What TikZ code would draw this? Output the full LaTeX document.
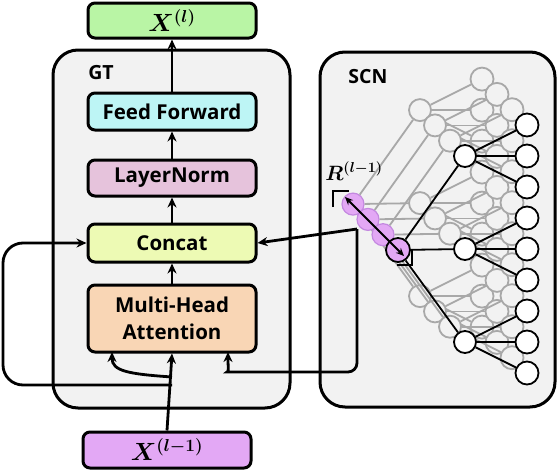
\documentclass[tikz,border=0pt]{standalone}
\usepackage{fontspec}
\usepackage{amsmath}
\usetikzlibrary{arrows.meta}
\newfontfamily\lbl{Open Sans}
\definecolor{cgreen}{HTML}{B9F5A5}
\definecolor{ccyan}{HTML}{BDF5F5}
\definecolor{cpink}{HTML}{E6C3DC}
\definecolor{cyel}{HTML}{EDFAB4}
\definecolor{cpeach}{HTML}{F9D6B5}
\definecolor{cpurp}{HTML}{E3A8F5}
\definecolor{cpurpd}{HTML}{C489E0}
\definecolor{cbg}{HTML}{F2F2F2}
\definecolor{cgray}{HTML}{A8A8A8}
\begin{document}
\begin{tikzpicture}[x=1pt,y=-1pt,
  blk/.style={draw=black, line width=3pt, rounded corners=7pt, minimum width=168pt, inner sep=0pt, align=center,
    font=\lbl\bfseries\fontsize{20.5}{27}\selectfont},
  mathlbl/.style={font=\fontsize{23.5}{28}\selectfont},
  panel/.style={draw=black, line width=3pt, rounded corners=25pt, fill=cbg},
  arr/.style={line width=2.8pt, -{Stealth[length=10pt,width=9pt]}},
  gnode/.style={circle, draw=cgray, line width=1.8pt, fill=cbg, inner sep=0pt},
  bnode/.style={circle, draw=black, line width=1.8pt, fill=white, inner sep=0pt},
  pnode/.style={circle, draw=cpurpd, line width=1.2pt, fill=cpurp, inner sep=0pt, minimum size=22pt},
  gedge/.style={draw=cgray, line width=1.8pt},
  bedge/.style={draw=black, line width=1.8pt},
  cornermark/.style={draw=black, line width=2pt}
]
\useasboundingbox (0,0) rectangle (557,471);
% panels
\draw[panel] (53,50) rectangle (290,408);
\draw[panel] (320,52) rectangle (555,407);
\node[font=\lbl\bfseries\fontsize{19.5}{22}\selectfont] (gtl) at (101,73) {GT};
\node[font=\lbl\bfseries\fontsize{19.5}{22}\selectfont] (scnl) at (368,77) {SCN};
% boxes
\node[blk, fill=cgreen, minimum height=35pt, mathlbl] (xl) at (172,20.5) {$\boldsymbol{X^{(l)}}$};
\node[blk, fill=ccyan, minimum height=37pt] (ff) at (172,111.5) {Feed Forward};
\node[blk, fill=cpink, minimum height=36pt] (ln) at (172,178) {LayerNorm};
\node[blk, fill=cyel, minimum height=38pt] (cc) at (172,243) {Concat};
\node[blk, fill=cpeach, minimum height=67pt] (mha) at (172,318.5) {Multi-Head\\Attention};
\node[blk, fill=cpurp, minimum height=36pt, mathlbl] (xlm) at (167,450) {$\boldsymbol{X^{(l-1)}}$};
% tree: gray copies
\foreach \k in {3,2,1}{
  \begin{scope}[shift={(-15*\k,-15.3*\k)}]
    \node[pnode] (r\k) at (398,250) {};
    \foreach \j in {0,1,2}{
      \node[gnode, minimum size=22pt] (m\k\j) at (465,{156+93*\j}) {};
      \draw[gedge] (r\k) -- (m\k\j);
      \foreach \i in {0,1,2}{
        \node[gnode, minimum size=23pt] (l\k\j\i) at (527,{125+31*(3*\j+\i)}) {};
        \draw[gedge] (m\k\j) -- (l\k\j\i);
      }
    }
  \end{scope}
}
% black tree
\node[pnode, draw=black, line width=1.8pt, minimum size=24pt] (r0) at (398,250) {};
\foreach \j in {0,1,2}{
  \node[bnode, minimum size=22pt] (m0\j) at (465,{156+93*\j}) {};
  \draw[bedge] (r0) -- (m0\j);
  \foreach \i in {0,1,2}{
    \node[bnode, minimum size=23pt] (l0\j\i) at (527,{125+31*(3*\j+\i)}) {};
    \draw[bedge] (m0\j) -- (l0\j\i);
  }
}
% corner marks and double arrow
\draw[cornermark] (333,207) -- (333,191) -- (349,191);
\draw[cornermark] (412,250) -- (412,265) -- (397,265);
\coordinate (da) at (345,197);
\coordinate (db) at (404,256);
\draw[line width=1.8pt, {Stealth[length=8pt,width=7pt]}-{Stealth[length=8pt,width=7pt]}] (da) -- (db);
\node[font=\fontsize{19.5}{22}\selectfont] (rl) at (354,171) {$\boldsymbol{R^{(l-1)}}$};
% connectors
\coordinate (J) at (357,229);
\coordinate (sp) at (172,385);
\coordinate (bp) at (172,377);
\draw[arr] (xlm.north) -- (mha.south);
\draw[arr] (mha.north) -- (cc.south);
\draw[arr] (cc.north) -- (ln.south);
\draw[arr] (ln.north) -- (ff.south);
\draw[arr] (ff.north) -- (xl.south);
\draw[arr] (bp) .. controls (128,374) and (112,371) .. (112,352);
\draw[arr, rounded corners=20pt] (sp) -- (3,385) -- (3,243) -- (cc.west);
\draw[arr] (J) -- (cc.east);
\draw[arr, rounded corners=9pt] (J) -- (357,372) -- (236,372) .. controls (229,372) and (228,368) .. (228,352);
\end{tikzpicture}
\end{document}
